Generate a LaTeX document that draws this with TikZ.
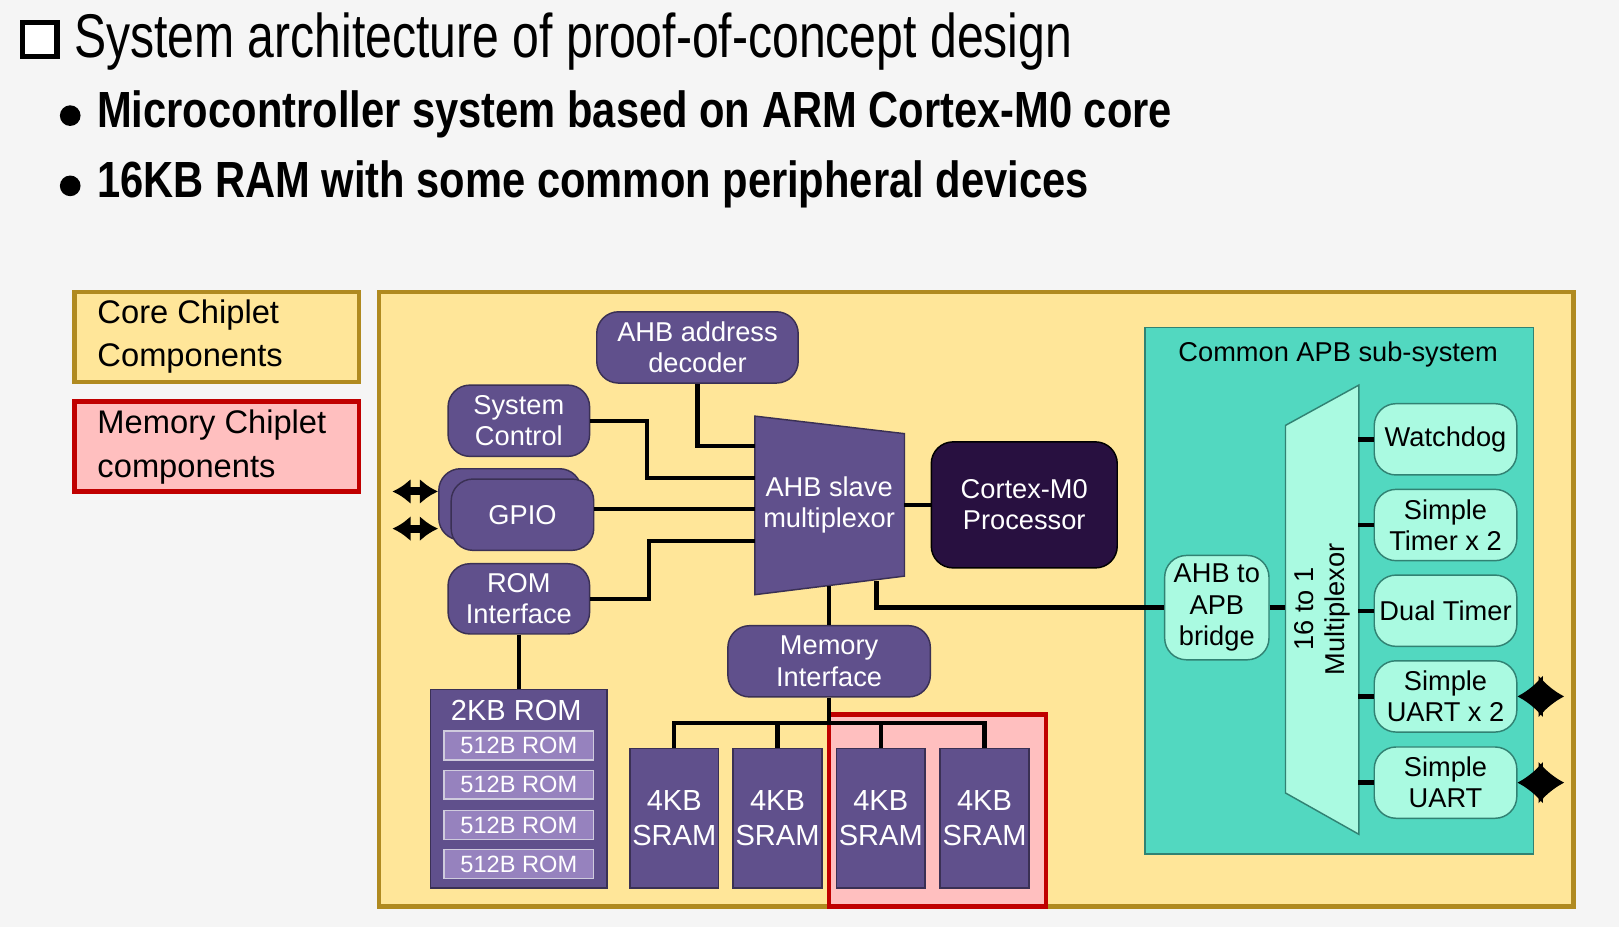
\documentclass[tikz,border=0pt]{standalone}
\usepackage{fontspec}
\setmainfont{Liberation Sans}
\usetikzlibrary{positioning, arrows.meta, shapes}
\definecolor{cyellow}{RGB}{255,230,153}
\definecolor{cborder}{RGB}{176,138,32}
\definecolor{mpink}{RGB}{255,191,191}
\definecolor{mred}{RGB}{192,0,0}
\definecolor{kpurple}{RGB}{96,80,140}
\definecolor{klpurple}{RGB}{150,130,190}
\definecolor{kdark}{RGB}{40,16,64}
\definecolor{apbteal}{RGB}{82,216,192}
\definecolor{apbmint}{RGB}{170,250,225}

\tikzset{
    pbox/.style={draw=kpurple!60!black, fill=kpurple, text=white, rounded corners=6pt, align=center, font=\fontsize{7.5}{8.6}\selectfont, inner sep=0pt},
    sbox/.style={pbox, rounded corners=0pt},
    tbox/.style={draw=apbteal!60!black, fill=apbmint, text=black, rounded corners=6pt, align=center, font=\fontsize{7.5}{8.6}\selectfont, minimum width=1.38cm, minimum height=0.69cm, inner sep=0pt},
    bus/.style={line width=1.2pt},
    io/.style={{Latex[length=5pt,width=7pt]}-{Latex[length=5pt,width=7pt]}, line width=2.2pt},
    legend/.style={align=left, font=\fontsize{9}{12}\selectfont, anchor=west}
}

\begin{document}
\begin{tikzpicture}[x=0.01cm, y=-0.01cm]
    % background
    \fill[gray!8] (0,0) rectangle (1568,898);
    \useasboundingbox (0,0) rectangle (1568,898);

    % heading
    \draw[line width=1.5pt, fill=white] (22,22) rectangle (55,55);
    \node[anchor=west, font=\fontsize{17}{20}\selectfont, xscale=0.78] (title) at (62,40) {System architecture of proof-of-concept design};
    \fill (68,112) circle[radius=10];
    \fill (68,180) circle[radius=10];
    \node[anchor=west, font=\bfseries\fontsize{14}{17}\selectfont, xscale=0.82] (bul1) at (84,111) {Microcontroller system based on ARM Cortex-M0 core};
    \node[anchor=west, font=\bfseries\fontsize{14}{17}\selectfont, xscale=0.82] (bul2) at (84,179) {16KB RAM with some common peripheral devices};

    % legend
    \draw[cborder, line width=1.2pt, fill=cyellow] (72,283) rectangle (348,370);
    \node[legend] (lcore) at (82,326) {Core Chiplet\\Components};
    \draw[mred, line width=1.2pt, fill=mpink] (72,389) rectangle (348,476);
    \node[legend] (lmem) at (82,433) {Memory Chiplet\\components};

    % chiplets
    \draw[cborder, line width=1.2pt, fill=cyellow] (367,283) rectangle (1524,878);
    \draw[mred, line width=1.2pt, fill=mpink] (803,692) rectangle (1013,878);

    % AHB side
    \node[pbox, minimum width=1.95cm, minimum height=0.69cm] (dec) at (675.5,336.5) {AHB address\\decoder};
    \node[pbox, minimum width=1.37cm, minimum height=0.69cm] (sysctl) at (502.5,407.5) {System\\Control};
    \node[pbox, minimum width=1.38cm, minimum height=0.69cm] (gpioB) at (494,488.5) {};
    \node[pbox, minimum width=1.38cm, minimum height=0.69cm] (gpio) at (506,498.5) {GPIO};
    \node[pbox, minimum width=1.37cm, minimum height=0.68cm] (romif) at (502.5,580) {ROM\\Interface};
    \node[pbox, fill=kdark, draw=black, minimum width=1.80cm, minimum height=1.22cm] (cpu) at (992,489) {Cortex-M0\\Processor};
    \node[pbox, minimum width=1.96cm, minimum height=0.69cm] (memif) at (803,640.5) {Memory\\Interface};

    % AHB slave multiplexor
    \draw[kpurple!60!black, fill=kpurple] (731,403) -- (876,420) -- (876,558) -- (731,576) -- cycle;
    \node[text=white, align=center, font=\fontsize{7.5}{8.6}\selectfont] (mux) at (803,489) {AHB slave\\multiplexor};
    \coordinate (muxA) at (731,432);
    \coordinate (muxB) at (731,463);
    \coordinate (muxC) at (731,493);
    \coordinate (muxD) at (731,524);
    \coordinate (muxE) at (876,489);
    \coordinate (muxF) at (803,568);
    \coordinate (muxG) at (849,563);

    % ROM
    \node[sbox, minimum width=1.71cm, minimum height=1.92cm] (rom) at (502.5,764) {};
    \node[text=white, font=\fontsize{8}{9}\selectfont] (romlbl) at (500,688) {2KB ROM};
    \foreach \y [count=\i] in {722,760,799,837}
        \node[sbox, fill=klpurple, draw=white!70!kpurple, minimum width=1.45cm, minimum height=0.28cm, font=\fontsize{6.5}{7}\selectfont] (rom\i) at (502.5,\y) {512B ROM};

    % SRAM
    \foreach \x [count=\i] in {653,753,853,953.5}
        \node[sbox, minimum width=0.86cm, minimum height=1.35cm, font=\fontsize{8}{9.5}\selectfont] (sram\i) at (\x,792.5) {4KB\\SRAM};
    \coordinate (sbus) at (803,700);

    % APB sub-system
    \draw[apbteal!60!black, fill=apbteal] (1109,317) rectangle (1485,827);
    \node[font=\fontsize{7.5}{8.6}\selectfont] (apbttl) at (1296,343) {Common APB sub-system};
    \node[tbox, minimum width=1.01cm, minimum height=1.01cm] (bridge) at (1178.5,588.5) {AHB to\\APB\\bridge};
    \draw[apbteal!60!black, fill=apbmint] (1245,412) -- (1316,373) -- (1316,808) -- (1245,768) -- cycle;
    \node[rotate=90, align=center, font=\fontsize{7.5}{8.6}\selectfont] (apbmux) at (1281,590) {16 to 1\\Multiplexor};
    \node[tbox] (wdog) at (1400,425.5) {Watchdog};
    \node[tbox] (timer) at (1400,508.5) {Simple\\Timer x 2};
    \node[tbox] (dtimer) at (1400,591.5) {Dual Timer};
    \node[tbox] (uart2) at (1400,674.5) {Simple\\UART x 2};
    \node[tbox] (uart) at (1400,758) {Simple\\UART};

    % buses
    \draw[bus] (dec.south) |- (muxA);
    \draw[bus] (sysctl.east) -- ++(55,0) |- (muxB);
    \draw[bus] (gpio.east |- muxC) -- (muxC);
    \draw[bus] (romif.east) -- ++(57,0) |- (muxD);
    \draw[bus] (muxE) -- (cpu.west);
    \draw[bus] (muxF) -- (memif.north);
    \draw[bus] (muxG) |- (bridge.west);
    \draw[bus] (romif.south) -- (rom.north);
    \draw[bus] (memif.south) -- (sbus);
    \draw[bus] (sram1.north) |- (sram4.north |- sbus) -- (sram4.north);
    \foreach \i in {2,3}
        \draw[bus] (sram\i.north) -- (sram\i.north |- sbus);
    \draw[bus] (bridge.east) -- (1245,588.5);
    \foreach \n in {wdog,timer,dtimer,uart2,uart}
        \draw[bus] (\n.west) -- ++(-15,0);

    % I/O
    \draw[io] (380,476) -- (gpioB.west |- 0,476);
    \draw[io] (380,512) -- (gpioB.west |- 0,512);
    \draw[io, {Latex[length=7pt,width=12pt]}-{Latex[length=7pt,width=12pt]}, line width=3.5pt] (uart2.east) -- ++(45,0);
    \draw[io, {Latex[length=7pt,width=12pt]}-{Latex[length=7pt,width=12pt]}, line width=3.5pt] (uart.east) -- ++(45,0);
\end{tikzpicture}
\end{document}
